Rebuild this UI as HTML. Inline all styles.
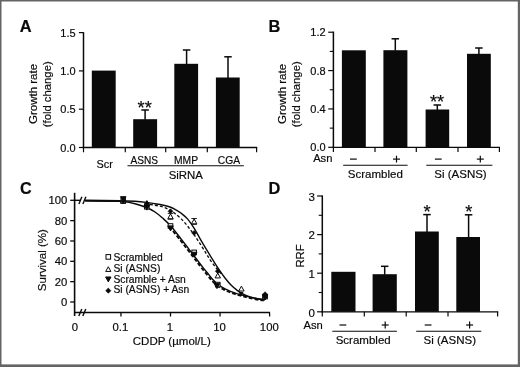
<!DOCTYPE html><html><head><meta charset="utf-8"><title>Figure</title><style>html,body{margin:0;padding:0;background:#fff}svg{display:block}text{font-family:"Liberation Sans",Arial,Helvetica,sans-serif;fill:#0a0a0a;stroke:#0a0a0a;stroke-width:0.18px}</style></head><body>
<svg width="520" height="367" viewBox="0 0 520 367">
<rect x="0" y="0" width="520" height="367" fill="#fff"/>
<rect x="0" y="0" width="520" height="1.5" fill="#646464"/>
<rect x="0" y="0" width="1.5" height="367" fill="#646464"/>
<rect x="517.8" y="0" width="2.2" height="367" fill="#646464"/>
<rect x="0" y="364.4" width="520" height="2.6" fill="#646464"/>
<text x="19.80" y="31.90" font-size="16.4" text-anchor="start" font-weight="bold" >A</text>
<line x1="83.50" y1="32.20" x2="83.50" y2="148.15" stroke="#0a0a0a" stroke-width="1.5" />
<line x1="82.75" y1="147.50" x2="257.20" y2="147.50" stroke="#0a0a0a" stroke-width="1.3" />
<line x1="78.90" y1="147.50" x2="83.50" y2="147.50" stroke="#0a0a0a" stroke-width="1.2" />
<text x="75.60" y="151.64" font-size="11" text-anchor="end" font-weight="normal" >0.0</text>
<line x1="78.90" y1="109.20" x2="83.50" y2="109.20" stroke="#0a0a0a" stroke-width="1.2" />
<text x="75.60" y="113.34" font-size="11" text-anchor="end" font-weight="normal" >0.5</text>
<line x1="78.90" y1="70.90" x2="83.50" y2="70.90" stroke="#0a0a0a" stroke-width="1.2" />
<text x="75.60" y="75.04" font-size="11" text-anchor="end" font-weight="normal" >1.0</text>
<line x1="78.90" y1="32.60" x2="83.50" y2="32.60" stroke="#0a0a0a" stroke-width="1.2" />
<text x="75.60" y="36.74" font-size="11" text-anchor="end" font-weight="normal" >1.5</text>
<line x1="83.50" y1="147.50" x2="83.50" y2="152.30" stroke="#0a0a0a" stroke-width="1.2" />
<line x1="125.30" y1="147.50" x2="125.30" y2="152.30" stroke="#0a0a0a" stroke-width="1.2" />
<line x1="165.70" y1="147.50" x2="165.70" y2="152.30" stroke="#0a0a0a" stroke-width="1.2" />
<line x1="207.30" y1="147.50" x2="207.30" y2="152.30" stroke="#0a0a0a" stroke-width="1.2" />
<line x1="256.60" y1="147.50" x2="256.60" y2="152.30" stroke="#0a0a0a" stroke-width="1.2" />
<rect x="91.80" y="70.60" width="23.90" height="76.90" fill="#0a0a0a"/>
<rect x="133.20" y="119.20" width="23.90" height="28.30" fill="#0a0a0a"/>
<line x1="145.10" y1="110.00" x2="145.10" y2="119.70" stroke="#0a0a0a" stroke-width="1.5" />
<line x1="141.35" y1="110.00" x2="148.85" y2="110.00" stroke="#0a0a0a" stroke-width="1.5" />
<rect x="174.30" y="63.80" width="23.80" height="83.70" fill="#0a0a0a"/>
<line x1="186.60" y1="50.00" x2="186.60" y2="64.30" stroke="#0a0a0a" stroke-width="1.5" />
<line x1="182.85" y1="50.00" x2="190.35" y2="50.00" stroke="#0a0a0a" stroke-width="1.5" />
<rect x="215.90" y="77.50" width="23.80" height="70.00" fill="#0a0a0a"/>
<line x1="228.00" y1="56.80" x2="228.00" y2="78.00" stroke="#0a0a0a" stroke-width="1.5" />
<line x1="224.25" y1="56.80" x2="231.75" y2="56.80" stroke="#0a0a0a" stroke-width="1.5" />
<text x="144.70" y="113.60" font-size="18.3" text-anchor="middle" font-weight="normal" >**</text>
<text x="104.60" y="167.60" font-size="10.9" text-anchor="middle" font-weight="normal" >Scr</text>
<text x="144.30" y="163.50" font-size="10.100000000000001" text-anchor="middle" font-weight="normal" >ASNS</text>
<text x="186.00" y="163.50" font-size="10.3" text-anchor="middle" font-weight="normal" >MMP</text>
<text x="228.90" y="163.50" font-size="10.3" text-anchor="middle" font-weight="normal" >CGA</text>
<line x1="127.50" y1="165.70" x2="243.80" y2="165.70" stroke="#0a0a0a" stroke-width="1.1" />
<text x="185.80" y="178.80" font-size="11.4" text-anchor="middle" font-weight="normal" >SiRNA</text>
<text transform="translate(37.00,94.00) rotate(-90)" font-size="11.5" text-anchor="middle">Growth rate</text>
<text transform="translate(51.30,94.30) rotate(-90)" font-size="11.3" text-anchor="middle">(fold change)</text>
<text x="268.50" y="31.90" font-size="16.4" text-anchor="start" font-weight="bold" >B</text>
<line x1="333.40" y1="31.60" x2="333.40" y2="147.95" stroke="#0a0a0a" stroke-width="1.5" />
<line x1="332.65" y1="147.30" x2="500.00" y2="147.30" stroke="#0a0a0a" stroke-width="1.3" />
<line x1="328.20" y1="147.30" x2="333.40" y2="147.30" stroke="#0a0a0a" stroke-width="1.2" />
<text x="325.60" y="151.44" font-size="11" text-anchor="end" font-weight="normal" >0.0</text>
<line x1="329.80" y1="128.12" x2="333.40" y2="128.12" stroke="#0a0a0a" stroke-width="1.1" />
<line x1="328.20" y1="108.94" x2="333.40" y2="108.94" stroke="#0a0a0a" stroke-width="1.2" />
<text x="325.60" y="113.08" font-size="11" text-anchor="end" font-weight="normal" >0.4</text>
<line x1="329.80" y1="89.76" x2="333.40" y2="89.76" stroke="#0a0a0a" stroke-width="1.1" />
<line x1="328.20" y1="70.58" x2="333.40" y2="70.58" stroke="#0a0a0a" stroke-width="1.2" />
<text x="325.60" y="74.72" font-size="11" text-anchor="end" font-weight="normal" >0.8</text>
<line x1="329.80" y1="51.40" x2="333.40" y2="51.40" stroke="#0a0a0a" stroke-width="1.1" />
<line x1="328.20" y1="32.22" x2="333.40" y2="32.22" stroke="#0a0a0a" stroke-width="1.2" />
<text x="325.60" y="36.36" font-size="11" text-anchor="end" font-weight="normal" >1.2</text>
<line x1="333.40" y1="147.30" x2="333.40" y2="152.10" stroke="#0a0a0a" stroke-width="1.2" />
<line x1="375.00" y1="147.30" x2="375.00" y2="152.10" stroke="#0a0a0a" stroke-width="1.2" />
<line x1="416.30" y1="147.30" x2="416.30" y2="152.10" stroke="#0a0a0a" stroke-width="1.2" />
<line x1="458.00" y1="147.30" x2="458.00" y2="152.10" stroke="#0a0a0a" stroke-width="1.2" />
<line x1="499.40" y1="147.30" x2="499.40" y2="152.10" stroke="#0a0a0a" stroke-width="1.2" />
<rect x="341.90" y="50.30" width="23.90" height="97.00" fill="#0a0a0a"/>
<rect x="383.40" y="50.20" width="24.00" height="97.10" fill="#0a0a0a"/>
<line x1="395.30" y1="38.80" x2="395.30" y2="50.70" stroke="#0a0a0a" stroke-width="1.5" />
<line x1="391.55" y1="38.80" x2="399.05" y2="38.80" stroke="#0a0a0a" stroke-width="1.5" />
<rect x="425.60" y="109.50" width="23.60" height="37.80" fill="#0a0a0a"/>
<line x1="437.30" y1="105.00" x2="437.30" y2="110.00" stroke="#0a0a0a" stroke-width="1.5" />
<line x1="433.55" y1="105.00" x2="441.05" y2="105.00" stroke="#0a0a0a" stroke-width="1.5" />
<rect x="467.00" y="53.80" width="23.80" height="93.50" fill="#0a0a0a"/>
<line x1="478.90" y1="48.00" x2="478.90" y2="54.30" stroke="#0a0a0a" stroke-width="1.5" />
<line x1="475.15" y1="48.00" x2="482.65" y2="48.00" stroke="#0a0a0a" stroke-width="1.5" />
<text x="437.10" y="107.90" font-size="18.3" text-anchor="middle" font-weight="normal" >**</text>
<text x="322.80" y="162.40" font-size="11.2" text-anchor="middle" font-weight="normal" >Asn</text>
<line x1="350.00" y1="159.10" x2="356.80" y2="159.10" stroke="#0a0a0a" stroke-width="1.2" />
<line x1="393.00" y1="159.10" x2="400.00" y2="159.10" stroke="#0a0a0a" stroke-width="1.2" />
<line x1="396.50" y1="155.70" x2="396.50" y2="162.50" stroke="#0a0a0a" stroke-width="1.2" />
<line x1="434.90" y1="159.10" x2="441.70" y2="159.10" stroke="#0a0a0a" stroke-width="1.2" />
<line x1="476.80" y1="159.10" x2="483.80" y2="159.10" stroke="#0a0a0a" stroke-width="1.2" />
<line x1="480.30" y1="155.70" x2="480.30" y2="162.50" stroke="#0a0a0a" stroke-width="1.2" />
<line x1="343.20" y1="165.20" x2="407.60" y2="165.20" stroke="#0a0a0a" stroke-width="1.1" />
<line x1="426.30" y1="165.20" x2="492.40" y2="165.20" stroke="#0a0a0a" stroke-width="1.1" />
<text x="375.30" y="178.30" font-size="11.5" text-anchor="middle" font-weight="normal" >Scrambled</text>
<text x="460.50" y="178.30" font-size="11.5" text-anchor="middle" font-weight="normal" >Si (ASNS)</text>
<text transform="translate(286.30,94.00) rotate(-90)" font-size="11.5" text-anchor="middle">Growth rate</text>
<text transform="translate(300.40,94.30) rotate(-90)" font-size="11.3" text-anchor="middle">(fold change)</text>
<text x="268.50" y="194.10" font-size="16.4" text-anchor="start" font-weight="bold" >D</text>
<line x1="322.30" y1="195.40" x2="322.30" y2="312.45" stroke="#0a0a0a" stroke-width="1.5" />
<line x1="321.55" y1="311.80" x2="498.20" y2="311.80" stroke="#0a0a0a" stroke-width="1.3" />
<line x1="317.10" y1="311.80" x2="322.30" y2="311.80" stroke="#0a0a0a" stroke-width="1.2" />
<text x="314.90" y="316.52" font-size="11.5" text-anchor="end" font-weight="normal" >0</text>
<line x1="318.70" y1="292.50" x2="322.30" y2="292.50" stroke="#0a0a0a" stroke-width="1.1" />
<line x1="317.10" y1="273.20" x2="322.30" y2="273.20" stroke="#0a0a0a" stroke-width="1.2" />
<text x="314.90" y="277.92" font-size="11.5" text-anchor="end" font-weight="normal" >1</text>
<line x1="318.70" y1="253.90" x2="322.30" y2="253.90" stroke="#0a0a0a" stroke-width="1.1" />
<line x1="317.10" y1="234.60" x2="322.30" y2="234.60" stroke="#0a0a0a" stroke-width="1.2" />
<text x="314.90" y="239.32" font-size="11.5" text-anchor="end" font-weight="normal" >2</text>
<line x1="318.70" y1="215.30" x2="322.30" y2="215.30" stroke="#0a0a0a" stroke-width="1.1" />
<line x1="317.10" y1="196.00" x2="322.30" y2="196.00" stroke="#0a0a0a" stroke-width="1.2" />
<text x="314.90" y="200.72" font-size="11.5" text-anchor="end" font-weight="normal" >3</text>
<line x1="322.30" y1="311.80" x2="322.30" y2="316.60" stroke="#0a0a0a" stroke-width="1.2" />
<line x1="364.30" y1="311.80" x2="364.30" y2="316.60" stroke="#0a0a0a" stroke-width="1.2" />
<line x1="406.20" y1="311.80" x2="406.20" y2="316.60" stroke="#0a0a0a" stroke-width="1.2" />
<line x1="448.00" y1="311.80" x2="448.00" y2="316.60" stroke="#0a0a0a" stroke-width="1.2" />
<line x1="497.60" y1="311.80" x2="497.60" y2="316.60" stroke="#0a0a0a" stroke-width="1.2" />
<rect x="331.30" y="271.80" width="24.20" height="40.00" fill="#0a0a0a"/>
<rect x="372.60" y="274.20" width="24.20" height="37.60" fill="#0a0a0a"/>
<line x1="384.70" y1="266.30" x2="384.70" y2="274.70" stroke="#0a0a0a" stroke-width="1.5" />
<line x1="380.95" y1="266.30" x2="388.45" y2="266.30" stroke="#0a0a0a" stroke-width="1.5" />
<rect x="415.00" y="231.50" width="23.80" height="80.30" fill="#0a0a0a"/>
<line x1="427.00" y1="214.60" x2="427.00" y2="232.00" stroke="#0a0a0a" stroke-width="1.5" />
<line x1="423.25" y1="214.60" x2="430.75" y2="214.60" stroke="#0a0a0a" stroke-width="1.5" />
<rect x="456.30" y="237.00" width="23.70" height="74.80" fill="#0a0a0a"/>
<line x1="468.60" y1="214.80" x2="468.60" y2="237.50" stroke="#0a0a0a" stroke-width="1.5" />
<line x1="464.85" y1="214.80" x2="472.35" y2="214.80" stroke="#0a0a0a" stroke-width="1.5" />
<text x="427.00" y="217.80" font-size="18.3" text-anchor="middle" font-weight="normal" >*</text>
<text x="468.80" y="217.80" font-size="18.3" text-anchor="middle" font-weight="normal" >*</text>
<text x="313.20" y="328.60" font-size="11.2" text-anchor="middle" font-weight="normal" >Asn</text>
<line x1="339.50" y1="325.00" x2="346.30" y2="325.00" stroke="#0a0a0a" stroke-width="1.2" />
<line x1="381.70" y1="325.00" x2="388.70" y2="325.00" stroke="#0a0a0a" stroke-width="1.2" />
<line x1="385.20" y1="321.60" x2="385.20" y2="328.40" stroke="#0a0a0a" stroke-width="1.2" />
<line x1="424.70" y1="325.00" x2="431.50" y2="325.00" stroke="#0a0a0a" stroke-width="1.2" />
<line x1="466.10" y1="325.00" x2="473.10" y2="325.00" stroke="#0a0a0a" stroke-width="1.2" />
<line x1="469.60" y1="321.60" x2="469.60" y2="328.40" stroke="#0a0a0a" stroke-width="1.2" />
<line x1="332.30" y1="331.30" x2="396.90" y2="331.30" stroke="#0a0a0a" stroke-width="1.1" />
<line x1="416.20" y1="331.30" x2="481.30" y2="331.30" stroke="#0a0a0a" stroke-width="1.1" />
<text x="363.20" y="344.30" font-size="11.5" text-anchor="middle" font-weight="normal" >Scrambled</text>
<text x="449.80" y="344.30" font-size="11.5" text-anchor="middle" font-weight="normal" >Si (ASNS)</text>
<text transform="translate(303.60,256.00) rotate(-90)" font-size="11.3" text-anchor="middle">RRF</text>
<text x="20.00" y="194.30" font-size="16.2" text-anchor="start" font-weight="bold" >C</text>
<line x1="74.60" y1="192.80" x2="74.60" y2="316.00" stroke="#0a0a0a" stroke-width="1.6" />
<line x1="74.60" y1="312.50" x2="270.00" y2="312.50" stroke="#0a0a0a" stroke-width="1.5" />
<line x1="70.20" y1="302.00" x2="74.60" y2="302.00" stroke="#0a0a0a" stroke-width="1.3" />
<text x="67.40" y="306.15" font-size="11.3" text-anchor="end" font-weight="normal" >0</text>
<line x1="70.20" y1="281.66" x2="74.60" y2="281.66" stroke="#0a0a0a" stroke-width="1.3" />
<text x="67.40" y="285.81" font-size="11.3" text-anchor="end" font-weight="normal" >20</text>
<line x1="70.20" y1="261.32" x2="74.60" y2="261.32" stroke="#0a0a0a" stroke-width="1.3" />
<text x="67.40" y="265.47" font-size="11.3" text-anchor="end" font-weight="normal" >40</text>
<line x1="70.20" y1="240.98" x2="74.60" y2="240.98" stroke="#0a0a0a" stroke-width="1.3" />
<text x="67.40" y="245.13" font-size="11.3" text-anchor="end" font-weight="normal" >60</text>
<line x1="70.20" y1="220.64" x2="74.60" y2="220.64" stroke="#0a0a0a" stroke-width="1.3" />
<text x="67.40" y="224.79" font-size="11.3" text-anchor="end" font-weight="normal" >80</text>
<line x1="70.20" y1="200.30" x2="74.60" y2="200.30" stroke="#0a0a0a" stroke-width="1.3" />
<text x="67.40" y="204.45" font-size="11.3" text-anchor="end" font-weight="normal" >100</text>
<line x1="74.60" y1="200.30" x2="80.50" y2="200.30" stroke="#0a0a0a" stroke-width="1.4" />
<line x1="78.90" y1="203.90" x2="81.90" y2="196.70" stroke="#0a0a0a" stroke-width="1.4" />
<line x1="82.90" y1="203.90" x2="85.90" y2="196.70" stroke="#0a0a0a" stroke-width="1.4" />
<line x1="78.80" y1="316.10" x2="81.80" y2="308.90" stroke="#0a0a0a" stroke-width="1.4" />
<line x1="82.80" y1="316.10" x2="85.80" y2="308.90" stroke="#0a0a0a" stroke-width="1.4" />
<line x1="120.95" y1="312.50" x2="120.95" y2="316.50" stroke="#0a0a0a" stroke-width="1.3" />
<text x="120.35" y="330.60" font-size="11.3" text-anchor="middle" font-weight="normal" >0.1</text>
<line x1="170.50" y1="312.50" x2="170.50" y2="316.50" stroke="#0a0a0a" stroke-width="1.3" />
<text x="169.90" y="330.60" font-size="11.3" text-anchor="middle" font-weight="normal" >1</text>
<line x1="220.05" y1="312.50" x2="220.05" y2="316.50" stroke="#0a0a0a" stroke-width="1.3" />
<text x="219.45" y="330.60" font-size="11.3" text-anchor="middle" font-weight="normal" >10</text>
<line x1="269.60" y1="312.50" x2="269.60" y2="316.50" stroke="#0a0a0a" stroke-width="1.3" />
<text x="269.30" y="330.60" font-size="11.3" text-anchor="middle" font-weight="normal" >100</text>
<text x="74.90" y="330.60" font-size="11.3" text-anchor="middle" font-weight="normal" >0</text>
<text x="171.80" y="345.10" font-size="11.5" text-anchor="middle" font-weight="normal" >CDDP (µmol/L)</text>
<text transform="translate(46.00,260.20) rotate(-90)" font-size="11.5" text-anchor="middle">Survival (%)</text>
<path d="M85.00,200.60 C89.17,200.65 103.67,200.83 110.00,200.90 C116.33,200.97 118.83,200.93 123.00,201.00 C127.17,201.07 131.08,201.07 135.00,201.30 C138.92,201.53 143.17,202.00 146.50,202.40 C149.83,202.80 152.33,203.27 155.00,203.70 C157.67,204.13 160.00,204.45 162.50,205.00 C165.00,205.55 167.92,206.28 170.00,207.00 C172.08,207.72 173.12,208.25 175.00,209.30 C176.88,210.35 179.17,211.70 181.25,213.30 C183.33,214.90 185.42,216.50 187.50,218.90 C189.58,221.30 191.67,224.42 193.75,227.70 C195.83,230.98 197.92,235.02 200.00,238.60 C202.08,242.18 204.17,245.75 206.25,249.20 C208.33,252.65 210.42,255.97 212.50,259.30 C214.58,262.63 216.67,266.08 218.75,269.20 C220.83,272.32 222.92,275.32 225.00,278.00 C227.08,280.68 229.17,283.20 231.25,285.30 C233.33,287.40 235.42,289.08 237.50,290.60 C239.58,292.12 241.67,293.35 243.75,294.40 C245.83,295.45 247.92,296.22 250.00,296.90 C252.08,297.58 253.75,298.05 256.25,298.50 C258.75,298.95 263.54,299.42 265.00,299.60" fill="none" stroke="#0a0a0a" stroke-width="1.4"/>
<path d="M150.00,204.40 C152.08,204.82 159.07,205.87 162.50,206.90 C165.93,207.93 168.52,209.48 170.60,210.60 C172.68,211.72 173.22,212.22 175.00,213.60 C176.78,214.98 179.17,216.83 181.25,218.90 C183.33,220.97 185.42,223.45 187.50,226.00 C189.58,228.55 191.67,231.27 193.75,234.20 C195.83,237.13 197.92,240.37 200.00,243.60 C202.08,246.83 204.58,250.93 206.25,253.60 C207.92,256.27 208.54,257.43 210.00,259.60 C211.46,261.77 213.54,264.70 215.00,266.60 C216.46,268.50 217.58,269.63 218.75,271.00 C219.92,272.37 221.46,274.17 222.00,274.80" fill="none" stroke="#0a0a0a" stroke-width="1.3" stroke-dasharray="3 2"/>
<path d="M85.00,200.60 C89.17,200.67 103.67,200.83 110.00,201.00 C116.33,201.17 118.83,201.15 123.00,201.60 C127.17,202.05 131.08,202.72 135.00,203.70 C138.92,204.68 143.17,206.12 146.50,207.50 C149.83,208.88 152.33,210.25 155.00,212.00 C157.67,213.75 159.90,215.70 162.50,218.00 C165.10,220.30 167.47,222.27 170.60,225.80 C173.72,229.33 178.43,235.62 181.25,239.20 C184.07,242.78 185.42,244.60 187.50,247.30 C189.58,250.00 192.00,253.12 193.75,255.40 C195.50,257.68 196.54,259.08 198.00,261.00 C199.46,262.92 200.71,264.63 202.50,266.90 C204.29,269.17 207.08,272.55 208.75,274.60 C210.42,276.65 210.83,277.47 212.50,279.20 C214.17,280.93 216.67,283.38 218.75,285.00 C220.83,286.62 222.92,287.80 225.00,288.90 C227.08,290.00 229.17,290.78 231.25,291.60 C233.33,292.42 235.42,293.13 237.50,293.80 C239.58,294.47 241.67,295.05 243.75,295.60 C245.83,296.15 247.29,296.50 250.00,297.10 C252.71,297.70 257.50,298.75 260.00,299.20 C262.50,299.65 264.17,299.70 265.00,299.80" fill="none" stroke="#0a0a0a" stroke-width="1.4"/>
<path d="M169.40,226.50 C171.18,228.73 177.23,236.32 180.05,239.90 C182.87,243.48 184.22,245.30 186.30,248.00 C188.38,250.70 190.80,253.82 192.55,256.10 C194.30,258.38 195.34,259.78 196.80,261.70 C198.26,263.62 199.51,265.33 201.30,267.60 C203.09,269.87 205.88,273.25 207.55,275.30 C209.22,277.35 209.63,278.17 211.30,279.90 C212.97,281.63 215.47,284.08 217.55,285.70 C219.63,287.32 221.72,288.50 223.80,289.60 C225.88,290.70 227.97,291.48 230.05,292.30 C232.13,293.12 234.22,293.83 236.30,294.50 C238.38,295.17 240.47,295.75 242.55,296.30 C244.63,296.85 246.09,297.20 248.80,297.80 C251.51,298.40 256.30,299.45 258.80,299.90 C261.30,300.35 262.97,300.40 263.80,300.50" fill="none" stroke="#0a0a0a" stroke-width="1.8" stroke-dasharray="3.8 2"/>
<line x1="85.00" y1="200.60" x2="121.00" y2="201.00" stroke="#0a0a0a" stroke-width="2.0" />
<rect x="120.92" y="198.70" width="4.6" height="4.6" fill="#fff" stroke="#0a0a0a" stroke-width="1"/>
<rect x="144.56" y="204.50" width="4.6" height="4.6" fill="#fff" stroke="#0a0a0a" stroke-width="1"/>
<rect x="168.20" y="223.70" width="4.6" height="4.6" fill="#fff" stroke="#0a0a0a" stroke-width="1"/>
<rect x="191.84" y="250.10" width="4.6" height="4.6" fill="#fff" stroke="#0a0a0a" stroke-width="1"/>
<rect x="215.48" y="282.30" width="4.6" height="4.6" fill="#fff" stroke="#0a0a0a" stroke-width="1"/>
<rect x="262.77" y="294.30" width="4.6" height="4.6" fill="#fff" stroke="#0a0a0a" stroke-width="1"/>
<polygon points="120.52,203.03 125.92,203.03 123.22,198.17" fill="#fff" stroke="#0a0a0a" stroke-width="1" stroke-linejoin="miter"/>
<polygon points="144.16,205.43 149.56,205.43 146.86,200.57" fill="#fff" stroke="#0a0a0a" stroke-width="1" stroke-linejoin="miter"/>
<line x1="170.50" y1="213.40" x2="170.50" y2="219.20" stroke="#0a0a0a" stroke-width="0.9" />
<line x1="167.75" y1="213.40" x2="173.25" y2="213.40" stroke="#0a0a0a" stroke-width="0.9" />
<line x1="167.75" y1="219.20" x2="173.25" y2="219.20" stroke="#0a0a0a" stroke-width="0.9" />
<polygon points="167.80,218.73 173.20,218.73 170.50,213.87" fill="#fff" stroke="#0a0a0a" stroke-width="1" stroke-linejoin="miter"/>
<line x1="194.14" y1="218.50" x2="194.14" y2="224.30" stroke="#0a0a0a" stroke-width="0.9" />
<line x1="191.39" y1="218.50" x2="196.89" y2="218.50" stroke="#0a0a0a" stroke-width="0.9" />
<line x1="191.39" y1="224.30" x2="196.89" y2="224.30" stroke="#0a0a0a" stroke-width="0.9" />
<polygon points="191.44,223.83 196.84,223.83 194.14,218.97" fill="#fff" stroke="#0a0a0a" stroke-width="1" stroke-linejoin="miter"/>
<polygon points="215.08,277.93 220.48,277.93 217.78,273.07" fill="#fff" stroke="#0a0a0a" stroke-width="1" stroke-linejoin="miter"/>
<polygon points="238.72,291.03 244.12,291.03 241.42,286.17" fill="#fff" stroke="#0a0a0a" stroke-width="1" stroke-linejoin="miter"/>
<polygon points="262.37,297.83 267.77,297.83 265.07,292.97" fill="#fff" stroke="#0a0a0a" stroke-width="1" stroke-linejoin="miter"/>
<polygon points="120.42,196.68 126.02,196.68 123.22,201.72" fill="#0a0a0a" stroke="#0a0a0a" stroke-width="1" stroke-linejoin="miter"/>
<polygon points="144.06,205.08 149.66,205.08 146.86,210.12" fill="#0a0a0a" stroke="#0a0a0a" stroke-width="1" stroke-linejoin="miter"/>
<polygon points="167.70,225.88 173.30,225.88 170.50,230.92" fill="#0a0a0a" stroke="#0a0a0a" stroke-width="1" stroke-linejoin="miter"/>
<polygon points="191.34,252.28 196.94,252.28 194.14,257.32" fill="#0a0a0a" stroke="#0a0a0a" stroke-width="1" stroke-linejoin="miter"/>
<polygon points="214.18,283.58 219.78,283.58 216.98,288.62" fill="#0a0a0a" stroke="#0a0a0a" stroke-width="1" stroke-linejoin="miter"/>
<polygon points="239.32,292.58 242.92,292.58 241.12,295.82" fill="#0a0a0a" stroke="#0a0a0a" stroke-width="1" stroke-linejoin="miter"/>
<polygon points="262.27,294.88 267.87,294.88 265.07,299.92" fill="#0a0a0a" stroke="#0a0a0a" stroke-width="1" stroke-linejoin="miter"/>
<polygon points="120.77,201.20 123.22,198.75 125.67,201.20 123.22,203.65" fill="#0a0a0a" stroke="#0a0a0a" stroke-width="0.6"/>
<polygon points="144.41,203.60 146.86,201.15 149.31,203.60 146.86,206.05" fill="#0a0a0a" stroke="#0a0a0a" stroke-width="0.6"/>
<polygon points="168.05,211.30 170.50,208.85 172.95,211.30 170.50,213.75" fill="#0a0a0a" stroke="#0a0a0a" stroke-width="0.6"/>
<polygon points="191.69,232.90 194.14,230.45 196.59,232.90 194.14,235.35" fill="#0a0a0a" stroke="#0a0a0a" stroke-width="0.6"/>
<polygon points="215.33,271.20 217.78,268.75 220.23,271.20 217.78,273.65" fill="#0a0a0a" stroke="#0a0a0a" stroke-width="0.6"/>
<polygon points="262.62,294.20 265.07,291.75 267.52,294.20 265.07,296.65" fill="#0a0a0a" stroke="#0a0a0a" stroke-width="0.6"/>
<rect x="106.00" y="254.60" width="4.6" height="4.6" fill="#fff" stroke="#0a0a0a" stroke-width="1"/>
<text x="113.40" y="260.60" font-size="10.3" text-anchor="start" font-weight="normal" >Scrambled</text>
<polygon points="105.70,271.44 110.90,271.44 108.30,266.76" fill="#fff" stroke="#0a0a0a" stroke-width="1" stroke-linejoin="miter"/>
<text x="113.40" y="271.80" font-size="10.3" text-anchor="start" font-weight="normal" >Si (ASNS)</text>
<polygon points="105.60,276.97 111.00,276.97 108.30,281.83" fill="#0a0a0a" stroke="#0a0a0a" stroke-width="1" stroke-linejoin="miter"/>
<text x="113.40" y="282.50" font-size="10.3" text-anchor="start" font-weight="normal" >Scramble + Asn</text>
<polygon points="105.70,290.70 108.30,288.10 110.90,290.70 108.30,293.30" fill="#0a0a0a" stroke="#0a0a0a" stroke-width="0.6"/>
<text x="113.40" y="293.10" font-size="10.3" text-anchor="start" font-weight="normal" >Si (ASNS) + Asn</text>
</svg></body></html>
